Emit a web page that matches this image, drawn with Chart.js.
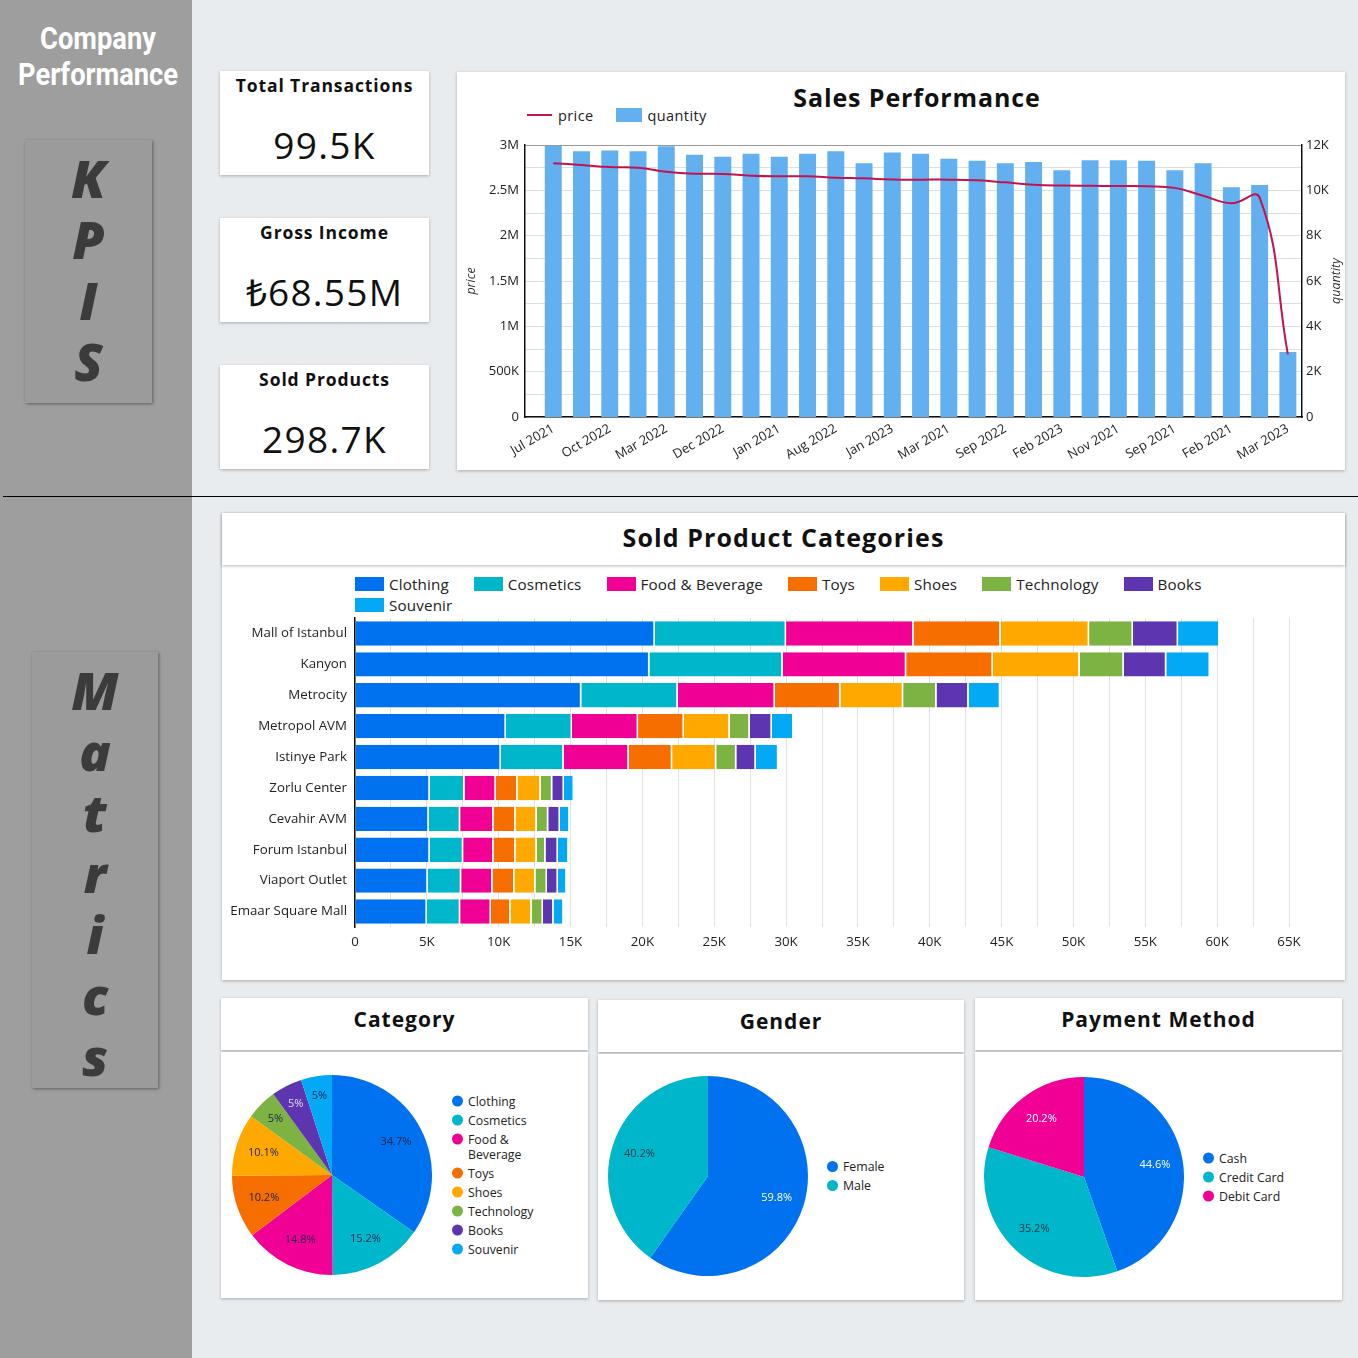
<!DOCTYPE html>
<html>
<head>
<meta charset="utf-8">
<script src="https://cdn.jsdelivr.net/npm/chart.js@4.4.1/dist/chart.umd.min.js"></script>
<style>
*{box-sizing:border-box;}
html,body{margin:0;padding:0;}
body{width:1358px;height:1358px;position:relative;overflow:hidden;background:#e9ecef;font-family:'Open Sans',sans-serif;color:#111;}
.abs{position:absolute;}
#sidebar{left:0;top:0;width:192px;height:1358px;background:#9e9e9e;}
#sep{left:3px;top:496px;width:1355px;height:1px;background:#000;}
#company{left:2px;top:21px;width:192px;text-align:center;color:#fff;font-family:'Roboto','Liberation Sans',sans-serif;font-weight:700;font-size:31px;line-height:36px;transform:scaleX(0.88);}
.vbox{background:#9b9b9b;box-shadow:1px 1px 3px rgba(0,0,0,0.4);padding-top:7px;}
.vbox span{display:block;text-align:center;font-family:'Open Sans',sans-serif;font-style:italic;font-weight:800;font-size:52px;line-height:61px;color:#3b3b3b;}
.card{background:#fff;box-shadow:0 1px 3px rgba(0,0,0,0.28);}
.kpi{left:220px;width:209px;height:104px;text-align:center;}
.kpi .t{position:absolute;top:3px;left:0;width:100%;font-weight:700;font-size:17.5px;line-height:22px;letter-spacing:0.9px;color:#111;}
.kpi .v{position:absolute;top:50px;left:0;width:100%;font-size:37px;line-height:48px;letter-spacing:1.3px;color:#111;}
.ctitle{position:absolute;left:0;width:100%;text-align:center;font-weight:700;color:#111;}
.band{background:#fff;box-shadow:0 1px 3px rgba(0,0,0,0.28);}
#salesLegend{left:70px;top:34px;height:18px;display:flex;align-items:center;font-size:14.5px;letter-spacing:0.4px;color:#222;}
.lg-line{width:25px;height:2px;background:#c2134f;margin-right:6px;}
.lg-box{width:26px;height:14px;background:#63b0f1;margin-right:6px;}
#barLegend{left:133px;top:60px;width:890px;display:flex;flex-wrap:wrap;font-size:15.2px;letter-spacing:0.15px;color:#222;}
#barLegend .it{display:flex;align-items:center;height:21px;margin-right:25px;}
#barLegend .sw{width:29px;height:14px;margin-right:5px;}
.pleg{position:absolute;transform:translateY(-50%);font-size:12.3px;color:#222;}
.pleg .it{display:flex;align-items:flex-start;line-height:15px;padding:2px 0;}
.pleg .dot{width:11px;height:11px;border-radius:50%;margin-top:2px;margin-right:5px;flex:none;}
.pleg .tx{width:80px;}
</style>
</head>
<body>
<div id="sidebar" class="abs"></div>
<div id="sep" class="abs"></div>
<div id="company" class="abs">Company<br>Performance</div>
<div id="kpisBox" class="abs vbox" style="left:25px;top:140px;width:127px;height:263px;"></div>
<div id="matricsBox" class="abs vbox" style="left:32px;top:652px;width:126px;height:436px;"></div>

<div id="kpiCards"></div>

<div id="salesCard" class="abs card" style="left:457px;top:72px;width:888px;height:398px;">
  <div class="ctitle" style="top:9px;left:260px;width:400px;font-size:25px;line-height:32px;letter-spacing:0.9px;">Sales Performance</div>
  <div id="salesLegend" class="abs"></div>
  <div class="abs" style="left:0;top:63px;width:888px;height:333px;"><canvas id="salesChart"></canvas></div>
</div>

<div id="barCard" class="abs card" style="left:222px;top:513px;width:1123px;height:467px;">
  <div class="abs band" style="left:0;top:0;width:1123px;height:52px;"></div>
  <div class="ctitle" style="top:8px;font-size:25px;line-height:32px;letter-spacing:1.1px;">Sold Product Categories</div>
  <div id="barLegend" class="abs"></div>
  <div class="abs" style="left:0;top:100px;width:1123px;height:347px;"><canvas id="barChart"></canvas></div>
</div>

<div class="abs band" style="left:221px;top:998px;width:367px;height:52px;"><div class="ctitle" style="top:8px;font-size:21px;line-height:26px;letter-spacing:1px;">Category</div></div>
<div class="abs card" style="left:221px;top:1052px;width:367px;height:246px;"></div>
<div class="abs band" style="left:598px;top:1000px;width:366px;height:52px;"><div class="ctitle" style="top:8px;font-size:21px;line-height:26px;letter-spacing:1px;">Gender</div></div>
<div class="abs card" style="left:598px;top:1054px;width:366px;height:246px;"></div>
<div class="abs band" style="left:975px;top:998px;width:367px;height:52px;"><div class="ctitle" style="top:8px;font-size:21px;line-height:26px;letter-spacing:1px;">Payment Method</div></div>
<div class="abs card" style="left:975px;top:1052px;width:367px;height:248px;"></div>

<div class="abs" style="left:232px;top:1075px;width:200px;height:200px;"><canvas id="catPie"></canvas></div>
<div class="abs" style="left:608px;top:1076px;width:200px;height:200px;"><canvas id="genderPie"></canvas></div>
<div class="abs" style="left:984px;top:1077px;width:200px;height:200px;"><canvas id="payPie"></canvas></div>
<div id="catLegend" class="pleg" style="left:452px;top:1175px;"></div>
<div id="genderLegend" class="pleg" style="left:827px;top:1176px;"></div>
<div id="payLegend" class="pleg" style="left:1203px;top:1177px;"></div>

<script>
// ---------- DATA ----------
const kpiTitles = ['Total Transactions', 'Gross Income', 'Sold Products'];
const kpiValues = ['99.5K', '₺68.55M', '298.7K'];
const sideWord1 = ['K', 'P', 'I', 'S'];
const sideWord2 = ['M', 'a', 't', 'r', 'i', 'c', 's'];

const months = ['Jul 2021','Apr 2021','Oct 2022','May 2021','Mar 2022','Jun 2021','Dec 2022','Aug 2021','Jan 2021','Oct 2021','Aug 2022','Dec 2021','Jan 2023','Jan 2022','Mar 2021','Feb 2022','Sep 2022','Apr 2022','Feb 2023','May 2022','Nov 2021','Jun 2022','Sep 2021','Jul 2022','Feb 2021','Nov 2022','Mar 2023'];
const priceValues = [2800000, 2780000, 2757000, 2750000, 2706000, 2684000, 2680000, 2662000, 2655000, 2655000, 2640000, 2632000, 2620000, 2618000, 2618000, 2610000, 2588000, 2562000, 2552000, 2550000, 2547000, 2545000, 2527000, 2440000, 2357000, 2420000, 690000];
const quantityValues = [11960, 11720, 11760, 11720, 11940, 11570, 11480, 11610, 11480, 11610, 11720, 11200, 11670, 11610, 11390, 11300, 11200, 11250, 10890, 11330, 11330, 11300, 10890, 11200, 10140, 10240, 2870];

const malls = ['Mall of Istanbul','Kanyon','Metrocity','Metropol AVM','Istinye Park','Zorlu Center','Cevahir AVM','Forum Istanbul','Viaport Outlet','Emaar Square Mall'];
const productCategories = ['Clothing','Cosmetics','Food & Beverage','Toys','Shoes','Technology','Books','Souvenir'];
const clothingSold   = [20860, 20490, 15750, 10500, 10150, 5200, 5130, 5200, 5060, 5000];
const cosmeticsSold  = [9140, 9270, 6710, 4600, 4370, 2420, 2190, 2330, 2330, 2320];
const foodSold       = [8870, 8600, 6760, 4600, 4530, 2180, 2320, 2110, 2180, 2140];
const toysSold       = [6060, 6030, 4560, 3190, 3020, 1510, 1530, 1530, 1530, 1360];
const shoesSold      = [6160, 6040, 4370, 3190, 3070, 1610, 1470, 1470, 1460, 1470];
const technologySold = [3050, 3070, 2320, 1390, 1400, 810, 810, 620, 800, 790];
const booksSold      = [3140, 2960, 2230, 1540, 1350, 810, 810, 860, 760, 740];
const souvenirSold   = [2890, 3040, 2200, 1510, 1570, 700, 680, 750, 610, 700];

const categoryShare = [34.7, 15.2, 14.8, 10.2, 10.1, 5, 5, 5];
const genderLabels = ['Female', 'Male'];
const genderShare = [59.8, 40.2];
const paymentLabels = ['Cash', 'Credit Card', 'Debit Card'];
const paymentShare = [44.6, 35.2, 20.2];

// ---------- STYLES ----------
const palette = ['#0072f0','#00b6cb','#f10096','#f66d00','#ffa800','#7cb342','#5e35b1','#03a9f4'];
const catLabelColors = ['#1d2550','#1d2550','#1d2550','#1d2550','#1d2550','#1d2550','#e0d8f0','#1d2550'];
const genderLabelColors = ['#ffffff','#2a3a4a'];
const payLabelColors = ['#ffffff','#2a3a4a','#ffffff'];

// ---------- STATIC TEXT ----------
document.getElementById('kpisBox').innerHTML = sideWord1.map(c => '<span>' + c + '</span>').join('');
document.getElementById('matricsBox').innerHTML = sideWord2.map(c => '<span>' + c + '</span>').join('');
const kpiTops = [71, 218, 365];
document.getElementById('kpiCards').innerHTML = kpiTitles.map((t, i) =>
  '<div class="abs card kpi" style="top:' + kpiTops[i] + 'px"><div class="t">' + t + '</div><div class="v">' + kpiValues[i] + '</div></div>').join('');

document.getElementById('salesLegend').innerHTML =
  '<div class="lg-line"></div><span style="margin-right:22px">price</span><div class="lg-box"></div><span>quantity</span>';
document.getElementById('barLegend').innerHTML = productCategories.map((c, i) =>
  '<div class="it"><div class="sw" style="background:' + palette[i] + '"></div><span>' + c + '</span></div>').join('');

function pieLegend(id, labels, colors) {
  document.getElementById(id).innerHTML = labels.map((l, i) =>
    '<div class="it"><div class="dot" style="background:' + colors[i] + '"></div><div class="tx">' + l + '</div></div>').join('');
}
pieLegend('catLegend', productCategories, palette);
pieLegend('genderLegend', genderLabels, palette);
pieLegend('payLegend', paymentLabels, [palette[0], palette[1], palette[2]]);

// ---------- CHARTS ----------
Chart.defaults.font.family = "'Open Sans', sans-serif";
Chart.defaults.color = '#222';
Chart.defaults.animation = false;

function fmtShort(v) {
  if (v === 0) return '0';
  if (v >= 1000000) return (v / 1000000) + 'M';
  return (v / 1000) + 'K';
}
function noVPad(s) { s.paddingTop = 0; s.paddingBottom = 0; }

const rightTitlePlugin = {
  id: 'rightTitle',
  afterDraw(chart, args, opts) {
    const s = chart.scales.y1;
    const ctx = chart.ctx;
    ctx.save();
    ctx.translate(s.right - 9, (s.top + s.bottom) / 2);
    ctx.rotate(-Math.PI / 2);
    ctx.font = 'italic 12.5px "Open Sans", sans-serif';
    ctx.fillStyle = '#333';
    ctx.textAlign = 'center';
    ctx.textBaseline = 'middle';
    ctx.fillText(opts.text, 0, 0);
    ctx.restore();
  }
};

new Chart(document.getElementById('salesChart'), {
  data: {
    datasets: [
      { type: 'line', label: 'price', data: priceValues.map((v, i) => ({ x: i, y: v })), yAxisID: 'y',
        borderColor: '#c2134f', borderWidth: 2, pointRadius: 0, tension: 0.45, order: 0 },
      { type: 'bar', label: 'quantity', data: quantityValues.map((v, i) => ({ x: i, y: v })), yAxisID: 'y1',
        backgroundColor: '#63b0f1', categoryPercentage: 1, barPercentage: 0.6, order: 1 }
    ]
  },
  options: {
    responsive: true, maintainAspectRatio: false, animation: false,
    layout: { padding: { top: 10, left: 0, right: 0, bottom: 0 } },
    plugins: { legend: { display: false }, tooltip: { enabled: false }, rightTitle: { text: 'quantity' } },
    scales: {
      x: {
        type: 'linear', min: -1, max: 26.5, offset: false,
        grid: { display: false, drawTicks: false },
        border: { color: '#111', width: 1.5 },
        afterBuildTicks: s => { s.ticks = months.map((m, i) => ({ value: i })).filter(t => t.value % 2 === 0); },
        ticks: { autoSkip: false, minRotation: 30, maxRotation: 30, padding: 4, font: { size: 13 }, color: '#222',
                 callback: v => months[v] },
        afterFit: s => { s.height = 51; }
      },
      y: {
        position: 'left', min: 0, max: 3000000,
        ticks: { stepSize: 250000, padding: 6, font: { size: 13 }, color: '#222',
                 callback: v => (v % 500000 === 0 ? fmtShort(v) : '') },
        grid: { drawTicks: false, color: c => (c.tick && c.tick.value === 3000000 ? '#999' : '#dedede') },
        border: { color: '#111', width: 1.5 },
        title: { display: true, text: 'price', font: { style: 'italic', size: 12.5 }, color: '#333', padding: { top: 7, bottom: 0 } },
        afterFit: s => { s.width = 68; noVPad(s); }
      },
      y1: {
        position: 'right', min: 0, max: 12000,
        ticks: { stepSize: 2000, padding: 4, font: { size: 13 }, color: '#222', callback: v => fmtShort(v) },
        grid: { display: false, drawTicks: false },
        border: { color: '#111', width: 1.5 },
        afterFit: s => { s.width = 43; noVPad(s); }
      }
    }
  },
  plugins: [rightTitlePlugin]
});

const categorySeries = [clothingSold, cosmeticsSold, foodSold, toysSold, shoesSold, technologySold, booksSold, souvenirSold];
new Chart(document.getElementById('barChart'), {
  type: 'bar',
  data: {
    labels: malls,
    datasets: productCategories.map((c, i) => ({
      label: c, data: categorySeries[i], backgroundColor: palette[i],
      borderColor: '#ffffff', borderWidth: { top: 0, bottom: 0, left: 0, right: 1.5 }, borderSkipped: false,
      categoryPercentage: 1, barPercentage: 0.79
    }))
  },
  options: {
    indexAxis: 'y', responsive: true, maintainAspectRatio: false, animation: false,
    layout: { padding: { top: 5, right: 56, left: 0, bottom: 0 } },
    plugins: { legend: { display: false }, tooltip: { enabled: false } },
    scales: {
      x: {
        stacked: true, min: 0, max: 65000,
        ticks: { stepSize: 2500, autoSkip: false, maxRotation: 0, padding: 7, font: { size: 13.3 }, color: '#222',
                 callback: v => (v % 5000 === 0 ? fmtShort(v) : '') },
        grid: { color: '#e2e2e2', drawTicks: false },
        border: { display: false },
        afterFit: s => { s.height = 33; }
      },
      y: {
        stacked: true,
        grid: { display: false, drawTicks: false },
        border: { color: '#111', width: 1.5 },
        ticks: { padding: 8, font: { size: 13.3 }, color: '#222' },
        afterFit: s => { s.width = 133; noVPad(s); }
      }
    }
  }
});

const pieLabelPlugin = {
  id: 'pieLabels',
  afterDatasetsDraw(chart, args, opts) {
    const ctx = chart.ctx;
    const meta = chart.getDatasetMeta(0);
    const vals = chart.data.datasets[0].data;
    const total = vals.reduce((a, b) => a + b, 0);
    ctx.save();
    ctx.font = '11px "Open Sans", sans-serif';
    ctx.textAlign = 'center';
    ctx.textBaseline = 'middle';
    meta.data.forEach((arc, i) => {
      const p = arc.getProps(['x', 'y', 'startAngle', 'endAngle', 'outerRadius'], true);
      const mid = (p.startAngle + p.endAngle) / 2;
      const pct = vals[i] / total * 100;
      const r = p.outerRadius * (pct < 8 ? 0.8 : 0.72);
      ctx.fillStyle = opts.colors[i];
      ctx.fillText((Math.round(pct * 10) / 10) + '%', p.x + Math.cos(mid) * r, p.y + Math.sin(mid) * r);
    });
    ctx.restore();
  }
};

function makePie(id, labels, values, colors, labelColors) {
  new Chart(document.getElementById(id), {
    type: 'pie',
    data: { labels: labels, datasets: [{ data: values, backgroundColor: colors, borderWidth: 0 }] },
    options: {
      responsive: true, maintainAspectRatio: false, animation: false,
      layout: { padding: 0 },
      plugins: { legend: { display: false }, tooltip: { enabled: false }, pieLabels: { colors: labelColors } }
    },
    plugins: [pieLabelPlugin]
  });
}
makePie('catPie', productCategories, categoryShare, palette, catLabelColors);
makePie('genderPie', genderLabels, genderShare, [palette[0], palette[1]], genderLabelColors);
makePie('payPie', paymentLabels, paymentShare, [palette[0], palette[1], palette[2]], payLabelColors);
</script>
</body>
</html>
